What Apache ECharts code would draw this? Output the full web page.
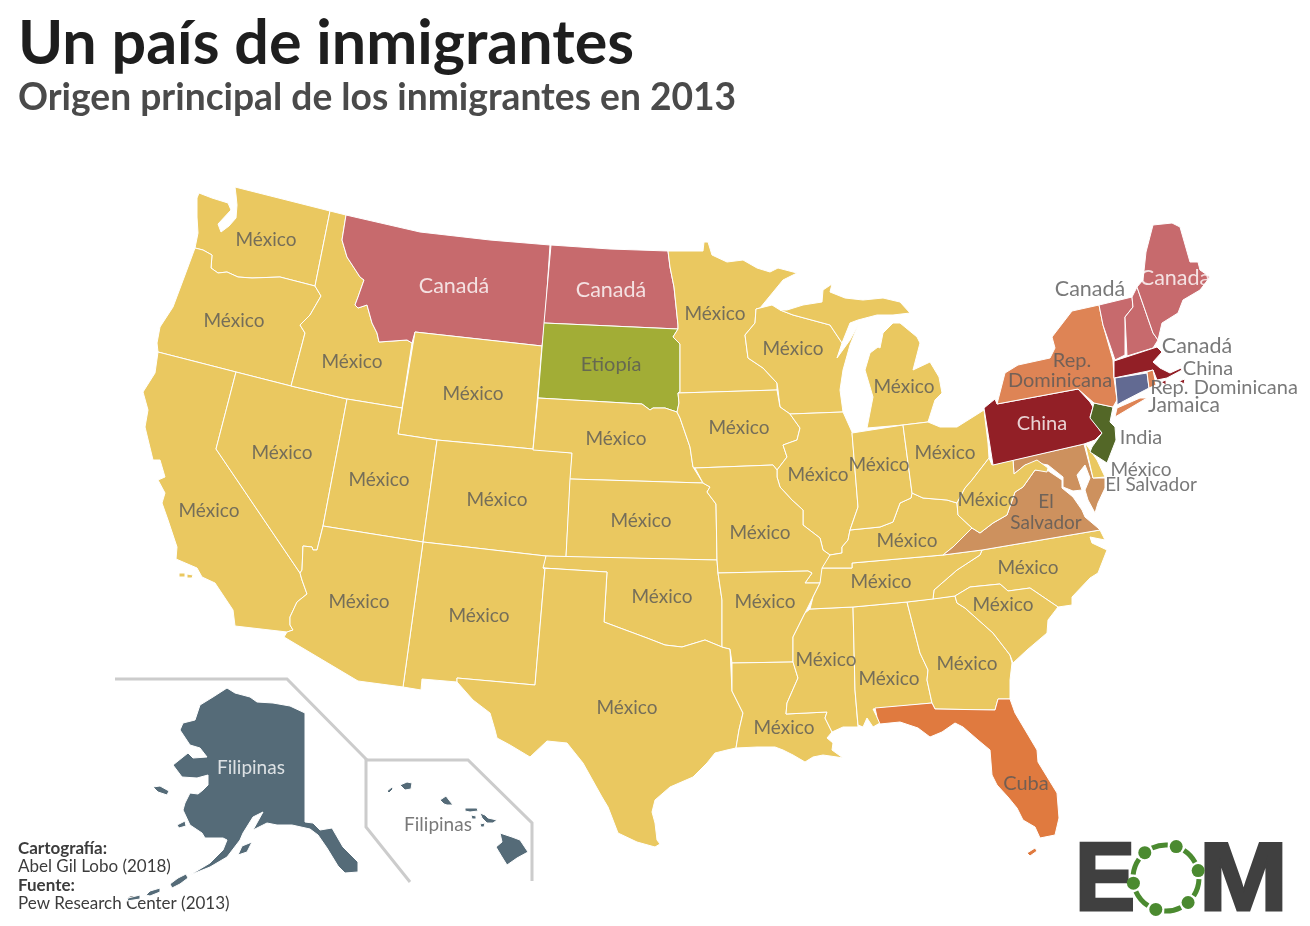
<!DOCTYPE html>
<html>
<head>
  <meta charset="utf-8">
  <title>Un país de inmigrantes</title>
  <style>
    html, body { margin: 0; padding: 0; background: #ffffff; }
    #chart { width: 1310px; height: 926px; }
  </style>
</head>
<body>
<div id="chart"></div>
<script src="https://cdn.jsdelivr.net/npm/echarts@6/dist/echarts.min.js"></script>
<script>
  // origen principal por estado
  var originNames = ['México', 'Canadá', 'Etiopía', 'China', 'India', 'Rep. Dominicana', 'Jamaica', 'El Salvador', 'Cuba', 'Filipinas'];
  var originColors = ['#eac860', '#c76a6d', '#a2ad36', '#921f26', '#536727', '#de8455', '#626a92', '#cd915e', '#e07a3f', '#556b78'];
  var stateNames = ['WA', 'OR', 'CA', 'NV', 'ID', 'MT', 'WY', 'UT', 'CO', 'NM', 'AZ', 'ND', 'SD', 'NE', 'KS', 'OK', 'TX', 'MN', 'WI', 'MI', 'IA', 'IL', 'MO', 'AR', 'LA', 'MS', 'AL', 'GA', 'FL', 'NC', 'SC', 'TN', 'KY', 'IN', 'OH', 'VA', 'MD', 'WV', 'DE', 'PA', 'NJ', 'NY', 'VT', 'NH', 'ME', 'MA', 'CT', 'RI', 'AK', 'HI'];
  var stateOrigins = ['México', 'México', 'México', 'México', 'México', 'Canadá', 'México', 'México', 'México', 'México', 'México', 'Canadá', 'Etiopía', 'México', 'México', 'México', 'México', 'México', 'México', 'México', 'México', 'México', 'México', 'México', 'México', 'México', 'México', 'México', 'Cuba', 'México', 'México', 'México', 'México', 'México', 'México', 'El Salvador', 'El Salvador', 'México', 'México', 'China', 'India', 'Rep. Dominicana', 'Canadá', 'Canadá', 'Canadá', 'China', 'Jamaica', 'Rep. Dominicana', 'Filipinas', 'Filipinas'];

  var stateOutlines = {
    WA: [[[199,193],[212,198],[228,203],[231,210],[218,224],[221,232],[229,226],[236,218],[237,205],[236,195],[235,187],[330,211],[315,286],[280,277],[252,278],[238,277],[227,272],[218,273],[211,268],[212,255],[203,250],[195,248],[198,233],[197,217],[197,198]]],
    OR: [[[195,248],[203,250],[212,255],[211,268],[218,273],[227,272],[238,277],[252,278],[280,277],[315,286],[321,296],[310,315],[300,325],[305,333],[291,386],[236,372],[158,352],[157,343],[160,327],[173,307],[185,275]]],
    CA: [[[158,352],[236,372],[216,449],[300,573],[302,580],[307,594],[297,602],[290,617],[290,625],[293,630],[287,632],[235,626],[233,610],[215,583],[202,577],[197,568],[176,559],[177,547],[168,520],[162,503],[165,493],[158,480],[165,477],[160,460],[153,460],[145,427],[148,410],[143,392],[155,373]],
      [[179,573],[185,573],[185,577],[179,577]],[[187,574],[193,575],[192,578],[187,578]]],
    NV: [[[236,372],[291,386],[347,399],[323,526],[317,550],[313,550],[312,547],[303,546],[302,570],[300,573],[216,449]]],
    ID: [[[330,211],[346,215],[342,240],[347,257],[360,277],[364,280],[358,297],[355,305],[358,308],[367,305],[372,323],[377,333],[379,342],[407,340],[412,343],[402,408],[347,399],[291,386],[305,333],[300,325],[310,315],[321,296],[315,286]]],
    MT: [[[346,215],[420,232],[490,240],[550,245],[545,322],[542,346],[415,332],[412,343],[407,340],[379,342],[377,333],[372,323],[367,305],[358,308],[355,305],[358,297],[364,280],[360,277],[347,257],[342,240]]],
    WY: [[[415,332],[542,346],[533,449],[437,440],[398,434]]],
    UT: [[[347,399],[402,408],[398,434],[437,440],[423,542],[323,526]]],
    CO: [[[437,440],[533,449],[572,453],[566,557],[546,556],[423,542]]],
    NM: [[[423,542],[546,556],[545,568],[535,685],[457,678],[457,682],[422,679],[421,690],[403,687]]],
    AZ: [[[323,526],[423,542],[403,687],[358,681],[284,637],[287,632],[293,630],[290,625],[290,617],[297,602],[307,594],[302,580],[300,573],[302,570],[303,546],[312,547],[313,550],[317,550]]],
    ND: [[[551,245],[610,249],[668,251],[670,267],[674,287],[678,325],[678,329],[544,323]]],
    SD: [[[544,323],[678,329],[673,337],[680,344],[680,392],[678,393],[679,403],[677,412],[665,408],[653,408],[650,410],[642,404],[538,398]]],
    NE: [[[538,398],[642,404],[650,410],[653,408],[665,408],[677,412],[680,418],[690,447],[693,467],[703,483],[570,479],[572,453],[533,450]]],
    KS: [[[570,479],[703,483],[710,487],[707,492],[716,504],[717,560],[566,557]]],
    OK: [[[546,556],[717,560],[718,573],[722,600],[722,647],[705,640],[682,647],[665,645],[647,638],[620,628],[604,622],[607,572],[543,568]]],
    TX: [[[543,568],[607,572],[604,622],[620,628],[647,638],[665,645],[682,647],[705,640],[722,647],[730,649],[732,691],[743,713],[739,730],[736,748],[727,750],[715,753],[707,763],[693,777],[670,787],[655,800],[652,812],[655,823],[657,840],[660,844],[655,847],[637,842],[618,833],[608,807],[602,797],[583,763],[567,743],[547,741],[530,757],[510,745],[497,738],[495,730],[490,713],[473,700],[457,682],[457,678],[535,685],[545,568]]],
    MN: [[[668,251],[703,251],[704,242],[708,242],[712,255],[727,262],[743,260],[757,268],[770,272],[778,268],[797,273],[783,280],[760,308],[756,309],[755,323],[745,335],[748,358],[763,368],[777,383],[777,390],[678,393],[680,392],[680,344],[673,337],[678,329],[678,325],[674,287],[670,267]]],
    WI: [[[756,309],[760,308],[772,305],[780,310],[793,315],[830,325],[838,337],[842,343],[837,358],[850,340],[858,325],[850,345],[843,370],[840,390],[843,412],[790,414],[780,407],[778,390],[777,383],[763,368],[748,358],[745,335],[755,323]]],
    MI: [[[780,310],[787,310],[803,305],[822,302],[823,290],[832,284],[830,292],[845,298],[863,300],[883,298],[900,302],[910,313],[893,315],[877,315],[858,320],[850,323],[842,343],[838,337],[830,325],[793,315]],
      [[893,323],[900,323],[917,337],[920,343],[913,370],[930,362],[939,377],[942,393],[935,400],[928,422],[903,425],[867,428],[873,397],[865,370],[870,353],[878,347],[880,348],[883,333]]],
    IA: [[[678,393],[777,390],[780,407],[790,414],[800,428],[797,440],[783,445],[787,457],[777,470],[773,465],[695,468],[693,467],[690,447],[680,418],[677,412],[679,403]]],
    IL: [[[790,414],[843,412],[852,432],[858,507],[850,530],[848,540],[842,547],[842,553],[830,555],[823,550],[820,538],[803,525],[803,510],[792,500],[780,487],[777,477],[777,470],[787,457],[783,445],[797,440],[800,428]]],
    MO: [[[695,468],[773,465],[777,470],[777,477],[780,487],[792,500],[803,510],[803,525],[820,538],[823,550],[830,555],[828,560],[820,583],[805,583],[812,573],[808,571],[718,573],[717,560],[716,504],[707,492],[710,487],[703,483]]],
    AR: [[[718,573],[808,571],[812,573],[805,583],[820,583],[813,597],[805,613],[793,637],[793,662],[732,663],[730,649],[722,647],[722,600]]],
    LA: [[[732,663],[793,662],[798,678],[787,703],[786,714],[827,712],[825,718],[832,732],[827,738],[833,743],[832,750],[843,758],[837,757],[823,755],[813,757],[805,762],[793,755],[783,750],[775,747],[757,747],[736,748],[739,730],[743,713],[732,691]]],
    MS: [[[810,609],[853,607],[855,690],[858,727],[843,727],[832,732],[825,718],[827,712],[786,714],[787,703],[798,678],[793,662],[793,637],[805,613]]],
    AL: [[[853,607],[907,602],[920,653],[928,670],[927,680],[932,703],[873,709],[880,723],[873,727],[867,718],[863,727],[858,725],[855,690]]],
    GA: [[[907,602],[955,596],[957,603],[965,608],[993,633],[1010,655],[1012,663],[1010,680],[1010,699],[998,699],[995,710],[935,709],[932,703],[927,680],[928,670],[920,653]]],
    FL: [[[875,708],[932,703],[935,709],[995,710],[998,699],[1010,699],[1015,713],[1037,750],[1038,762],[1057,793],[1059,818],[1055,835],[1040,838],[1035,827],[1023,820],[1017,808],[1008,797],[997,785],[992,775],[990,750],[978,740],[963,727],[955,723],[942,732],[930,737],[918,728],[900,722],[880,724],[877,717]],
      [[1027,853],[1035,848],[1037,851],[1030,856]]],
    NC: [[[982,550],[1100,530],[1105,540],[1090,537],[1092,543],[1107,550],[1098,573],[1090,578],[1072,597],[1072,605],[1058,607],[1030,588],[1008,591],[1000,584],[970,587],[955,596],[933,599],[934,590],[957,570],[980,555]]],
    SC: [[[955,596],[970,587],[1000,584],[1008,591],[1030,588],[1058,607],[1048,620],[1047,633],[1027,650],[1013,663],[1010,655],[993,633],[965,608],[957,603]]],
    TN: [[[822,568],[852,568],[852,563],[943,555],[982,550],[980,555],[957,570],[934,590],[933,599],[907,602],[853,607],[810,609],[813,597],[820,583]]],
    KY: [[[830,555],[842,553],[842,547],[848,540],[850,530],[870,528],[880,527],[893,522],[900,503],[911,498],[912,493],[923,498],[947,500],[957,503],[958,515],[972,528],[953,547],[943,555],[852,563],[852,568],[822,568]]],
    IN: [[[852,433],[903,425],[912,493],[911,498],[900,503],[893,522],[880,527],[870,528],[850,530],[858,507]]],
    OH: [[[903,425],[928,422],[940,427],[957,427],[984,410],[988,443],[989,458],[972,480],[965,488],[957,503],[947,500],[923,498],[912,493]]],
    VA: [[[943,555],[953,547],[972,528],[980,533],[993,523],[1007,515],[1015,492],[1023,487],[1035,470],[1047,470],[1062,480],[1062,488],[1073,497],[1082,510],[1085,517],[1098,528],[1100,530],[982,550]]],
    MD: [[[1013,460],[1084,444],[1093,478],[1105,478],[1105,488],[1098,503],[1095,513],[1088,500],[1085,490],[1090,478],[1085,465],[1077,475],[1082,490],[1073,491],[1063,487],[1063,477],[1048,465],[1037,463],[1025,465],[1014,474]]],
    WV: [[[989,458],[992,465],[1013,460],[1014,474],[1025,465],[1037,460],[1048,468],[1047,472],[1035,470],[1023,487],[1015,492],[1007,515],[993,523],[980,533],[972,528],[958,515],[957,503],[965,488],[972,480]]],
    DE: [[[1085,443],[1088,447],[1097,460],[1105,477],[1093,478]]],
    PA: [[[984,408],[995,399],[997,404],[1078,389],[1090,402],[1093,407],[1090,417],[1102,433],[1095,440],[1084,444],[993,465]]],
    NJ: [[[1094,403],[1113,407],[1110,422],[1115,427],[1116,440],[1107,463],[1090,452],[1092,447],[1102,433],[1090,418]]],
    NY: [[[997,404],[1005,373],[1018,365],[1050,358],[1055,348],[1052,337],[1072,311],[1099,305],[1103,325],[1113,360],[1114,378],[1117,400],[1113,407],[1094,403],[1078,389]],
      [[1115,417],[1147,398],[1140,398],[1117,408]]],
    VT: [[[1099,305],[1132,297],[1133,307],[1125,317],[1125,355],[1115,360],[1103,325]]],
    NH: [[[1132,297],[1137,287],[1153,333],[1158,340],[1153,348],[1127,356],[1125,317],[1133,307]]],
    ME: [[[1137,287],[1143,280],[1146,252],[1153,225],[1172,223],[1180,227],[1190,262],[1198,262],[1200,270],[1210,277],[1200,290],[1183,300],[1178,313],[1162,323],[1158,340],[1153,333]]],
    MA: [[[1114,361],[1157,347],[1162,352],[1153,362],[1160,368],[1170,373],[1181,368],[1178,364],[1182,370],[1167,378],[1157,380],[1153,370],[1114,378]],
      [[1161,382],[1166,380],[1166,385]],[[1179,381],[1185,379],[1184,384]]],
    CT: [[[1115,378],[1147,373],[1149,388],[1122,402],[1117,405],[1117,400]]],
    RI: [[[1147,372],[1153,370],[1156,385],[1149,388]]],
    AK: [[[227,688],[235,693],[250,697],[257,702],[273,703],[290,706],[305,713],[305,822],[313,823],[320,830],[332,828],[343,847],[358,862],[358,872],[345,873],[338,866],[327,848],[318,835],[310,829],[292,825],[277,825],[267,823],[253,830],[263,812],[253,817],[243,833],[240,840],[227,857],[210,867],[190,875],[210,863],[223,850],[227,840],[223,838],[205,838],[202,833],[190,825],[183,810],[185,803],[190,793],[198,794],[203,790],[208,785],[208,775],[197,778],[182,777],[173,765],[188,753],[193,758],[207,757],[200,748],[190,745],[180,730],[183,723],[195,720],[200,705],[213,697]],
      [[238,855],[242,846],[252,842],[247,852]],[[153,787],[160,786],[169,791],[167,795],[158,792]],[[177,825],[185,821],[186,826],[179,828]],[[186,874],[178,878],[170,884],[172,888],[180,884],[188,878]],[[160,888],[150,891],[146,895],[150,896],[160,892]],[[140,895],[128,898],[127,901],[140,899]]],
    HI: [[[400,785],[407,782],[412,783],[411,789],[405,790]],[[387,791],[392,787],[393,789],[389,793]],[[440,800],[446,796],[449,800],[453,805],[447,805],[444,804]],[[465,808],[477,808],[478,811],[470,812],[465,811]],[[471,815],[476,816],[476,819],[472,819]],[[480,813],[485,815],[488,818],[497,820],[493,823],[487,823],[482,818]],[[480,824],[485,823],[484,827],[481,827]],[[500,833],[512,837],[520,840],[528,852],[517,858],[507,865],[502,857],[496,847],[502,842]]]
  };

  // etiquetas
  var labelTexts = ['México', 'México', 'México', 'México', 'México', 'México', 'México', 'México', 'México', 'México', 'Canadá', 'Canadá', 'Etiopía', 'México', 'México', 'México', 'México', 'México', 'México', 'México', 'México', 'México', 'México', 'México', 'México', 'México', 'México', 'México', 'México', 'México', 'México', 'México', 'México', 'México', 'México', 'México', 'El Salvador', 'Canadá', 'Canadá', 'Canadá', 'China', 'Rep. Dominicana', 'Jamaica', 'India', 'China', 'Rep.', 'Dominicana', 'El', 'Salvador', 'Cuba', 'Filipinas', 'Filipinas'];
  var labelSpots = [[266,240],[234,321],[352,362],[473,394],[209,511],[282,453],[379,480],[497,500],[359,602],[479,616],[454,286],[611,290],[611,365],[616,439],[641,521],[662,597],[627,708],[715,314],[739,428],[760,533],[765,602],[784,728],[793,349],[818,475],[904,387],[879,465],[945,453],[907,541],[881,582],[826,660],[889,679],[967,664],[1003,605],[1028,568],[988,500],[1141,470],[1151,485],[1090,289],[1197,346],[1175,278],[1208,369],[1224,388],[1184,405],[1141,438],[1042,424],[1072,361],[1060,381],[1046,502],[1046,523],[1026,784],[251,768],[438,825]];
  var whiteLabels = ['454,286', '611,290', '1175,278', '1042,424', '251,768'];
  var labelSizes = { 'Canadá': 21.5, 'Jamaica': 21, 'China': 20, 'Rep. Dominicana': 20, 'Rep.': 20, 'Dominicana': 20, 'Cuba': 20, 'India': 20, 'Etiopía': 20 };

  var creditLines = ['Cartografía:', 'Abel Gil Lobo (2018)', 'Fuente:', 'Pew Research Center (2013)'];
  var logoNodeAngles = [-130, -72, -13, 48, 108, 171];

  var features = stateNames.map(function (name) {
    return {
      type: 'Feature',
      properties: { name: name },
      geometry: {
        type: 'MultiPolygon',
        coordinates: stateOutlines[name].map(function (ring) { return [ring]; })
      }
    };
  });
  echarts.registerMap('usa', { type: 'FeatureCollection', features: features });

  // caja del mapa, para que las unidades coincidan con los pixeles
  var minX = Infinity, minY = Infinity, maxX = -Infinity, maxY = -Infinity;
  stateNames.forEach(function (name) {
    stateOutlines[name].forEach(function (ring) {
      ring.forEach(function (p) {
        minX = Math.min(minX, p[0]); maxX = Math.max(maxX, p[0]);
        minY = Math.min(minY, p[1]); maxY = Math.max(maxY, p[1]);
      });
    });
  });

  var frameStyle = { stroke: '#cccccc', lineWidth: 3, fill: null };
  var graphics = [
    { type: 'polyline', shape: { points: [[115, 679], [287, 679], [367, 760]] }, style: frameStyle, silent: true },
    { type: 'polyline', shape: { points: [[410, 882], [366, 827], [366, 760], [468, 760], [532, 823], [532, 881]] }, style: frameStyle, silent: true }
  ];
  creditLines.forEach(function (line, i) {
    graphics.push({
      type: 'text', left: 18, top: 840 + i * 18.5, silent: true,
      style: {
        text: line, fill: '#3c3c3c', fontFamily: 'Lato',
        fontSize: 17, fontWeight: i % 2 === 0 ? 'bold' : 'normal'
      }
    });
  });

  // logo
  var logoCx = 1166, logoCy = 878, logoR = 33;
  var logoFill = '#404040';
  graphics.push(
    { type: 'text', x: 1075, y: 835, scaleX: 0.93, silent: true, style: { text: 'E', fill: logoFill, stroke: logoFill, lineWidth: 3, fontFamily: 'Liberation Sans', fontWeight: 'bold', fontSize: 97 } },
    { type: 'text', x: 1199, y: 835, scaleX: 1.1, silent: true, style: { text: 'M', fill: logoFill, stroke: logoFill, lineWidth: 3, fontFamily: 'Liberation Sans', fontWeight: 'bold', fontSize: 97 } }
  );
  logoNodeAngles.forEach(function (deg, i) {
    var next = logoNodeAngles[(i + 1) % logoNodeAngles.length];
    if (next < deg) next += 360;
    graphics.push({
      type: 'arc', silent: true,
      shape: { cx: logoCx, cy: logoCy, r: logoR, startAngle: (deg + 15) * Math.PI / 180, endAngle: (next - 15) * Math.PI / 180, clockwise: true },
      style: { stroke: '#4b8a30', lineWidth: 5, fill: null }
    });
    graphics.push({
      type: 'circle', silent: true,
      shape: { cx: logoCx + logoR * Math.cos(deg * Math.PI / 180), cy: logoCy + logoR * Math.sin(deg * Math.PI / 180), r: 6.5 },
      style: { fill: '#4b8a30' }
    });
  });

  var chart = echarts.init(document.getElementById('chart'));
  chart.setOption({
    animation: false,
    backgroundColor: '#ffffff',
    title: [
      { text: 'Un país de inmigrantes', left: 18, top: 14, padding: 0, textStyle: { fontFamily: 'Lato', fontWeight: 'bold', fontSize: 61, color: '#1e1e1e' } },
      { text: 'Origen principal de los inmigrantes en 2013', left: 18, top: 80, padding: 0, textStyle: { fontFamily: 'Lato', fontWeight: 'bold', fontSize: 37.2, color: '#4a4a4a' } }
    ],
    visualMap: {
      show: false,
      type: 'piecewise',
      seriesIndex: 0,
      pieces: originNames.map(function (name, i) { return { value: i, color: originColors[i] }; })
    },
    geo: {
      map: 'usa',
      roam: false,
      silent: true,
      projection: {
        project: function (p) { return p; },
        unproject: function (p) { return p; }
      },
      left: minX,
      top: minY,
      width: maxX - minX,
      height: maxY - minY,
      label: { show: false },
      itemStyle: { areaColor: '#eac860', borderColor: '#ffffff', borderWidth: 1 },
      emphasis: { disabled: true }
    },
    series: [
      {
        type: 'map',
        geoIndex: 0,
        data: stateNames.map(function (name, i) {
          return { name: name, value: originNames.indexOf(stateOrigins[i]) };
        })
      },
      {
        type: 'scatter',
        coordinateSystem: 'geo',
        symbolSize: 0,
        silent: true,
        z: 5,
        data: labelSpots.map(function (p, i) {
          return {
            value: p,
            name: labelTexts[i],
            label: {
              color: whiteLabels.indexOf(p.join(',')) >= 0 ? '#ffffff' : '#585858',
              fontSize: labelSizes[labelTexts[i]] || 19
            }
          };
        }),
        label: {
          show: true,
          position: 'inside',
          formatter: '{b}',
          fontFamily: 'Lato',
          fontWeight: 'normal'
        }
      }
    ],
    graphic: graphics
  });
</script>
</body>
</html>
